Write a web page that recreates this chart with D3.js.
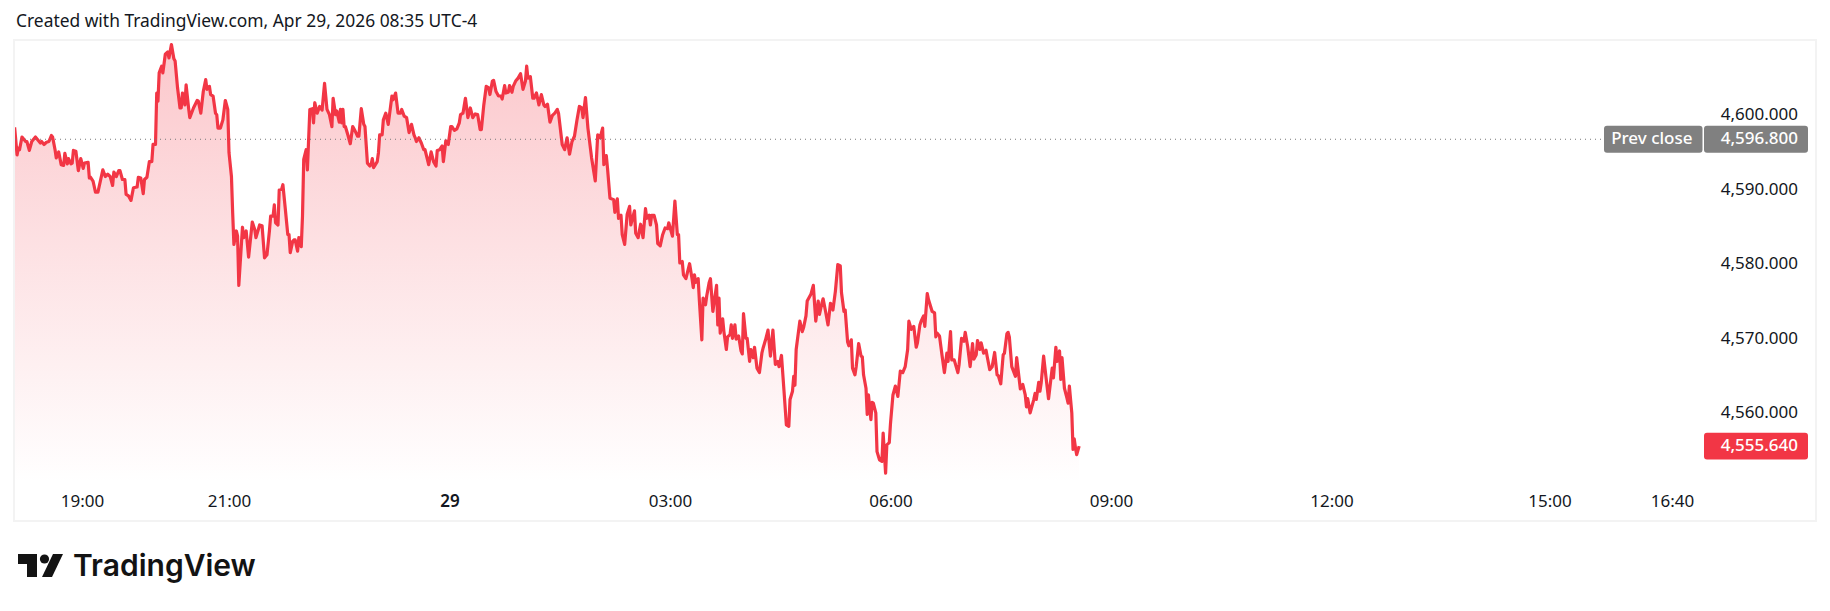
<!DOCTYPE html>
<html lang="en">
  <head>
    <meta charset="UTF-8" />
    <title>TradingView chart</title>
    <script src="https://d3js.org/d3.v7.min.js"></script>
    <style>
      html, body { margin: 0; padding: 0; background: #fff; }
      svg { display: block; }
      text { font-family: "Noto Sans", sans-serif; }
    </style>
  </head>
  <body>
    <div id="my_dataviz"></div>
    <script>
      // minutes after 18:00 on Apr 28
      const minutes = [
        5,7,8,9,11,14,15,17,19,20,
        22,24,26,27,29,31,33,35,36,38,
        39,41,43,45,46,48,49,51,52,53,
        55,57,59,61,62,65,66,67,69,71,
        73,75,77,79,81,83,85,86,88,90,
        91,93,95,96,98,100,102,105,106,108,
        110,111,113,115,117,118,120,121,122,123,
        125,126,128,130,131,133,135,136,138,140,
        141,142,144,145,147,148,151,154,155,157,
        159,161,162,164,165,167,169,170,171,173,
        175,177,179,180,182,183,184,186,187,188,
        191,192,194,196,199,201,202,205,207,209,
        211,213,214,216,217,218,220,221,223,224,
        226,228,229,230,232,233,234,236,237,239,
        240,241,243,244,246,248,249,250,252,254,
        256,258,260,262,264,265,267,268,270,271,
        272,273,274,275,277,279,281,283,285,286,
        288,290,291,293,295,296,297,298,301,302,
        303,305,306,308,310,313,314,316,318,320,
        321,323,325,327,329,331,332,333,335,337,
        339,340,343,345,347,349,350,352,354,355,
        357,359,361,362,364,366,368,369,371,373,
        374,375,377,379,381,383,385,386,388,390,
        392,393,395,396,398,400,402,403,405,406,
        408,409,411,412,414,416,418,420,422,423,
        424,426,428,429,431,433,435,437,438,440,
        442,444,446,448,449,452,454,456,458,460,
        462,464,466,468,469,471,473,476,479,481,
        483,485,486,488,489,491,494,495,497,498,
        500,501,503,505,507,508,511,512,514,516,
        518,520,521,523,524,525,527,529,530,532,
        534,536,538,539,542,544,546,547,548,550,
        551,553,556,558,559,560,561,563,564,566,
        567,569,570,572,573,575,578,579,580,581,
        583,584,586,587,589,590,591,593,594,596,
        598,599,600,602,603,605,606,608,609,611,
        613,615,616,618,620,622,624,626,628,629,
        631,633,635,637,638,640,641,642,643,646,
        648,649,651,652,655,657,659,661,662,664,
        665,667,669,671,673,675,677,679,680,682,
        683,685,686,688,689,691,692,694,696,697,
        698,700,701,702,704,705,706,708,709,711,
        713,714,716,717,719,720,722,724,726,728,
        730,732,734,735,737,739,741,742,744,745,
        747,748,750,751,754,756,757,758,760,762,
        764,766,767,769,770,772,775,776,778,780,
        781,783,785,787,788,790,791,793,794,796,
        798,799,801,803,805,807,808,810,812,813,
        815,816,817,819,822,823,826,828,830,831,
        832,834,837,838,839,841,842,843,845,847,
        849,852,853,855,856,858,859,860,862,864,
        865,866,868,869,870,871,872,874
      ];

      const prices = [
        4598.4,4594.7,4595.6,4595.4,4597.1,4596.5,4596.5,4595.3,4596.5,4596.7,
        4597.1,4596.7,4596.3,4596.5,4596.1,4596.4,4596.5,4597.3,4597.1,4595.4,
        4594.3,4595.1,4593.4,4593.3,4594.9,4593.5,4594.2,4593.5,4593.6,4595.3,
        4595.2,4592.6,4594.2,4592.9,4593.6,4593.7,4591.6,4591.7,4591.2,4589.7,
        4589.7,4591.2,4592.7,4591.8,4592.1,4591.8,4590.6,4592.4,4591.8,4592.6,
        4592.6,4591.4,4591.4,4589.4,4589.2,4588.6,4590.3,4590.4,4591.7,4591.6,
        4589.5,4591.4,4591.7,4593.8,4593.8,4596.1,4596.1,4603.0,4601.9,4605.7,
        4606.6,4605.7,4608.2,4608.5,4607.7,4609.5,4607.6,4607.3,4603.7,4601.0,
        4601.0,4603.0,4601.4,4604.1,4601.0,4599.7,4601.0,4602.0,4601.9,4600.3,
        4603.2,4604.8,4603.5,4603.9,4602.8,4602.6,4600.3,4600.1,4598.3,4598.3,
        4599.4,4602.0,4600.8,4595.0,4591.8,4586.9,4582.7,4584.5,4583.8,4577.2,
        4585.0,4583.6,4584.5,4581.0,4585.7,4584.7,4583.6,4585.3,4585.2,4580.9,
        4581.3,4584.5,4586.5,4586.5,4588.0,4585.6,4585.3,4590.0,4590.1,4590.7,
        4587.4,4584.0,4584.0,4581.6,4583.1,4583.3,4583.3,4581.8,4583.6,4582.4,
        4586.5,4594.1,4595.4,4592.7,4600.8,4600.9,4599.0,4601.7,4600.3,4601.2,
        4600.7,4604.3,4600.8,4600.1,4598.5,4602.3,4600.1,4600.6,4599.1,4600.8,
        4599.0,4600.8,4598.5,4598.5,4597.4,4596.2,4598.5,4597.9,4597.2,4597.2,
        4600.9,4598.8,4598.5,4593.6,4593.2,4593.4,4594.2,4593.0,4593.8,4595.0,
        4597.4,4597.4,4599.4,4600.3,4598.8,4602.6,4602.1,4603.0,4600.3,4600.3,
        4600.8,4599.9,4599.7,4597.7,4598.8,4597.4,4597.0,4596.5,4597.0,4596.3,
        4595.4,4595.4,4593.4,4595.1,4593.8,4593.2,4595.3,4595.4,4595.9,4593.8,
        4596.6,4596.1,4598.5,4598.5,4598.0,4598.2,4599.0,4600.1,4600.3,4602.3,
        4601.0,4599.7,4601.0,4599.7,4600.2,4600.1,4598.1,4598.1,4601.4,4603.9,
        4603.7,4602.8,4604.6,4604.7,4603.2,4602.6,4602.6,4602.2,4604.0,4603.0,
        4603.1,4604.0,4603.1,4603.9,4604.6,4605.0,4605.6,4603.5,4604.6,4606.6,
        4605.0,4605.2,4602.3,4602.3,4603.0,4601.4,4602.8,4601.4,4601.2,4601.5,
        4599.1,4600.0,4600.3,4600.8,4600.3,4596.1,4595.4,4597.0,4594.8,4596.5,
        4597.2,4599.3,4601.2,4601.0,4599.7,4602.4,4598.3,4594.3,4591.2,4597.4,
        4597.0,4598.3,4593.4,4594.6,4592.9,4588.9,4588.7,4587.0,4588.8,4586.2,
        4586.6,4584.0,4582.7,4586.7,4587.8,4585.3,4587.2,4584.2,4583.6,4585.4,
        4583.6,4587.5,4586.2,4586.6,4585.3,4586.6,4586.6,4585.3,4582.8,4582.5,
        4584.0,4584.9,4584.8,4585.6,4583.8,4588.5,4584.0,4584.0,4580.2,4580.4,
        4578.6,4578.1,4580.1,4578.1,4576.9,4578.6,4577.6,4578.1,4575.1,4569.9,
        4575.5,4574.6,4575.8,4577.6,4578.1,4573.7,4577.2,4571.9,4575.5,4570.8,
        4572.7,4571.0,4568.6,4570.3,4570.6,4571.9,4570.1,4571.9,4570.0,4570.4,
        4568.4,4568.0,4573.4,4570.1,4570.1,4567.0,4568.6,4567.5,4568.9,4566.1,
        4565.5,4568.1,4568.8,4569.9,4571.2,4567.7,4571.2,4566.6,4567.0,4566.3,
        4567.8,4563.2,4558.5,4558.3,4561.9,4563.0,4565.0,4563.8,4568.6,4572.4,
        4571.0,4571.5,4573.1,4575.1,4576.0,4577.2,4572.4,4575.1,4573.3,4574.8,
        4575.4,4573.7,4571.9,4574.8,4573.9,4576.4,4580.0,4579.8,4576.2,4573.7,
        4573.9,4569.6,4569.1,4569.9,4566.1,4565.2,4566.3,4569.4,4567.7,4567.6,
        4565.2,4563.4,4559.9,4562.5,4559.2,4561.5,4561.4,4560.1,4554.9,4553.8,
        4553.6,4557.4,4552.0,4555.8,4556.1,4558.7,4562.5,4563.7,4562.3,4565.7,
        4565.5,4566.3,4568.6,4572.4,4571.3,4571.7,4568.9,4569.5,4571.9,4572.4,
        4573.1,4571.7,4576.1,4575.3,4573.7,4573.5,4570.3,4570.8,4570.4,4567.9,
        4565.5,4568.1,4567.0,4571.0,4567.2,4567.2,4565.5,4566.6,4570.1,4569.7,
        4570.9,4569.0,4566.3,4569.4,4567.3,4567.9,4569.8,4568.6,4569.5,4568.1,
        4568.5,4567.6,4565.9,4566.3,4568.2,4565.2,4565.1,4564.0,4567.9,4568.1,
        4570.7,4570.9,4570.3,4566.3,4565.0,4567.5,4563.3,4563.9,4562.5,4560.9,
        4562.0,4560.1,4561.9,4562.7,4561.9,4564.2,4563.0,4564.1,4567.7,4564.8,
        4562.0,4566.1,4564.8,4568.9,4567.0,4568.4,4564.6,4567.5,4563.4,4562.1,
        4561.4,4563.7,4560.1,4555.2,4556.6,4555.4,4554.5,4555.64
      ];

      const priceTicks = [4560, 4570, 4580, 4590, 4600];
      const timeTicks = [60, 180, 360, 540, 720, 900, 1080, 1258, 1358];
      const timeLabels = ['19:00', '21:00', '29', '03:00', '06:00', '09:00', '12:00', '15:00', '16:40'];
      const prevClose = 4596.8;
      const lastPrice = prices[prices.length - 1];

      const width = 1830;
      const height = 611;
      const pane = { left: 15, right: 1815, top: 41, bottom: 483, axisBottom: 521 };
      const red = '#F23645';
      const grey = '#808080';
      const ink = '#131722';

      const svg = d3.select('#my_dataviz')
        .append('svg')
          .attr('width', width)
          .attr('height', height);

      const xScale = d3.scaleLinear().domain([60, 1360]).range([82, 1674.5]);
      const yScale = d3.scaleLinear().domain([4560, 4600]).range([413.6, 115.4]);
      const fmt = d3.format(',.3f');

      const defs = svg.append('defs');
      const gradient = defs.append('linearGradient')
        .attr('id', 'gradient')
        .attr('gradientUnits', 'userSpaceOnUse')
        .attr('x1', 0).attr('x2', 0)
        .attr('y1', pane.top).attr('y2', pane.bottom);
      gradient.append('stop').attr('offset', '0%').attr('style', `stop-color:${red};stop-opacity:.28`);
      gradient.append('stop').attr('offset', '100%').attr('style', `stop-color:${red};stop-opacity:0`);

      defs.append('clipPath').attr('id', 'pane')
        .append('rect')
          .attr('x', pane.left).attr('y', pane.top)
          .attr('width', pane.right - pane.left)
          .attr('height', pane.bottom - pane.top);

      // title
      svg.append('text')
        .attr('x', 16).attr('y', 27)
        .attr('font-size', 17.4)
        .attr('fill', ink)
        .text('Created with TradingView.com, Apr 29, 2026 08:35 UTC-4');

      // outer frame
      svg.append('rect')
        .attr('x', pane.left - 1).attr('y', pane.top - 1)
        .attr('width', pane.right - pane.left + 2)
        .attr('height', pane.axisBottom - pane.top + 1)
        .attr('fill', 'none')
        .attr('stroke', '#F3F3F3')
        .attr('stroke-width', 2);

      const series = minutes.map((m, i) => ({ m, p: prices[i] }));

      const area = d3.area()
        .x(d => xScale(d.m))
        .y0(pane.bottom)
        .y1(d => yScale(d.p));
      const line = d3.line()
        .x(d => xScale(d.m))
        .y(d => yScale(d.p));

      const plot = svg.append('g').attr('clip-path', 'url(#pane)');
      plot.append('path').datum(series)
        .attr('d', area)
        .style('fill', 'url(#gradient)');

      // prev close dots
      svg.append('line')
        .attr('x1', pane.left).attr('x2', 1604)
        .attr('y1', yScale(prevClose)).attr('y2', yScale(prevClose))
        .attr('stroke', '#787878')
        .attr('stroke-dasharray', '1 4');

      plot.append('path').datum(series)
        .attr('d', line)
        .attr('fill', 'none')
        .attr('stroke', red)
        .attr('stroke-width', 3.2)
        .attr('stroke-linejoin', 'round');

      // price axis
      const yAxis = svg.append('g')
        .attr('transform', 'translate(1798,-1.2)')
        .call(d3.axisRight(yScale).tickValues(priceTicks).tickFormat(fmt).tickSize(0));
      yAxis.select('.domain').remove();
      yAxis.selectAll('text')
        .attr('x', 0).attr('dy', '.32em')
        .attr('text-anchor', 'end')
        .attr('font-size', 17)
        .attr('font-family', '"Noto Sans", sans-serif')
        .attr('fill', ink);

      // time axis
      const xAxis = svg.append('g')
        .attr('transform', 'translate(0,501)')
        .call(d3.axisBottom(xScale)
          .tickValues(timeTicks)
          .tickFormat((d, i) => timeLabels[i])
          .tickSize(0));
      xAxis.select('.domain').remove();
      xAxis.selectAll('text')
        .attr('y', 0).attr('dy', '.36em')
        .attr('font-size', 17)
        .attr('font-family', '"Noto Sans", sans-serif')
        .attr('font-weight', (d, i) => timeLabels[i] === '29' ? 600 : 400)
        .attr('fill', ink);

      // price tags
      const tag = (x, w, y, fill, label) => {
        svg.append('rect')
          .attr('x', x).attr('y', y - 13.4)
          .attr('width', w).attr('height', 26.8)
          .attr('rx', 3)
          .attr('fill', fill);
        svg.append('text')
          .attr('x', x + w - 10).attr('y', y - 0.6)
          .attr('dy', '.32em')
          .attr('text-anchor', 'end')
          .attr('font-size', 17)
          .attr('font-weight', 500)
          .attr('fill', '#fff')
          .text(label);
      };
      tag(1604, 98.5, yScale(prevClose), grey, 'Prev close');
      tag(1704, 104, yScale(prevClose), grey, fmt(prevClose));
      tag(1704, 104, yScale(lastPrice), red, fmt(lastPrice));

      // logo
      const logo = svg.append('g').attr('fill', '#131313');
      logo.append('path').attr('d', 'M18 554H37V577H27V564H18Z');
      logo.append('circle').attr('cx', 44.5).attr('cy', 559).attr('r', 4.6);
      logo.append('path').attr('d', 'M53 554H63L52 577H42Z');
      logo.append('text')
        .attr('x', 73).attr('y', 576)
        .attr('font-size', 30)
        .attr('font-weight', 600)
        .style('font-family', 'Inter, sans-serif')
        .text('TradingView');
    </script>
  </body>
</html>
